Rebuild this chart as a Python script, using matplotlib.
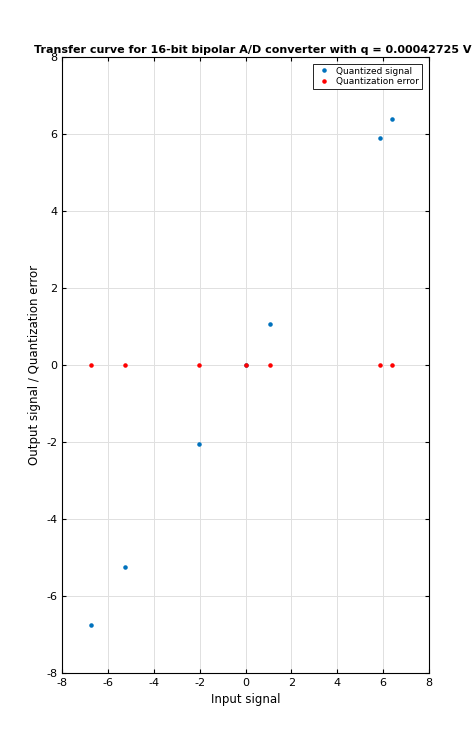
import matplotlib
matplotlib.use("Agg")
import matplotlib.pyplot as plt
plt.rcParams['axes.unicode_minus'] = False

x_in = [-6.75, -5.25, -2.05, 0.0, 1.05, 5.88, 6.38]
quantized = [-6.75, -5.25, -2.05, 0.0, 1.05, 5.88, 6.38]
qerror = [0.0, 0.0, 0.0, 0.0, 0.0, 0.0, 0.0]
ticks = [-8, -6, -4, -2, 0, 2, 4, 6, 8]

fig = plt.figure(figsize=(4.74, 7.56), dpi=100)
ax = fig.add_axes([0.131, 0.110, 0.774, 0.815])
ax.plot(x_in, quantized, '.', color='#0072bd', markersize=4.5, label='Quantized signal')
ax.plot(x_in, qerror, '.', color='#ff0000', markersize=4.5, label='Quantization error')
ax.set_xlim(-8, 8)
ax.set_ylim(-8, 8)
ax.set_xticks(ticks)
ax.set_yticks(ticks)
ax.grid(True, color='#e0e0e0', linewidth=0.7)
ax.tick_params(direction='in', labelsize=8, top=True, right=True, length=3)
ax.set_xlabel('Input signal', fontsize=8.5)
ax.set_ylabel('Output signal / Quantization error', fontsize=8.5)
ax.set_title('Transfer curve for 16-bit bipolar A/D converter with q = 0.00042725 V',
             fontsize=8, fontweight='bold', x=0.52, pad=3)
leg = ax.legend(loc='upper right', fontsize=6.5, fancybox=False, framealpha=1,
                edgecolor='black', borderaxespad=0.8, handletextpad=0.3,
                labelspacing=0.2, borderpad=0.3)
leg.get_frame().set_linewidth(0.6)
fig.savefig('out.png', dpi=100)
